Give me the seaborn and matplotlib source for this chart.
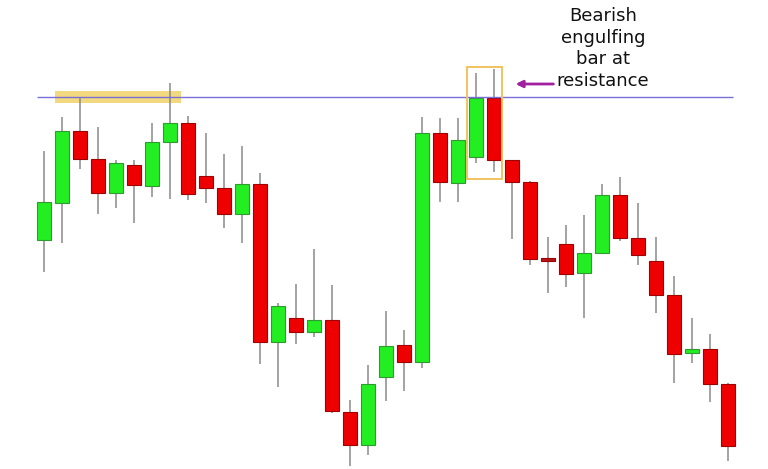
import numpy as np
import pandas as pd
import matplotlib
matplotlib.use("Agg")
import matplotlib.pyplot as plt
import seaborn as sns

# Candle data (price units)
opens  = [260, 297, 369, 341, 307, 335, 314, 358, 377, 324, 312, 286, 316, 158, 182, 168, 180, 88, 55, 123,
          155, 138, 367, 317, 343, 402, 340, 318, 242, 256, 227, 247, 305, 262, 239, 205, 147, 151, 116]
highs  = [349, 383, 403, 373, 340, 340, 377, 417, 384, 367, 346, 354, 327, 197, 216, 251, 215, 100, 135, 189,
          170, 383, 382, 382, 427, 431, 340, 319, 263, 275, 285, 316, 323, 297, 263, 224, 182, 166, 117]
lows   = [228, 257, 331, 286, 292, 277, 303, 301, 300, 297, 272, 257, 136, 113, 156, 163, 87, 34, 45, 99,
          109, 132, 298, 298, 337, 328, 261, 235, 207, 213, 182, 247, 259, 235, 187, 117, 137, 98, 39]
closes = [298, 369, 341, 307, 337, 315, 358, 377, 306, 312, 286, 316, 158, 194, 168, 180, 89, 55, 116, 154,
          138, 367, 318, 360, 402, 340, 318, 241, 239, 226, 247, 305, 262, 245, 205, 146, 151, 116, 54]

resistance_level = 403
zone_low, zone_high = 397, 409
annotation_text = "Bearish\nengulfing\nbar at\nresistance"

df = pd.DataFrame({"i": np.arange(len(opens)), "open": opens, "high": highs,
                   "low": lows, "close": closes})

sns.set_style("white")
fig = plt.figure(figsize=(7.68, 4.69), dpi=100)
ax = fig.add_axes([0, 0, 1, 1])

up = df["close"] >= df["open"]
green_face, green_edge = "#22ee22", "#2f9a2f"
red_face, red_edge = "#ee0000", "#a00000"

# wicks
ax.vlines(df["i"], df["low"], df["high"], color="#8a8a8a", linewidth=1.1, zorder=1)

# bodies
width = 0.76
bottoms = np.minimum(df["open"], df["close"])
heights = np.maximum(np.abs(df["close"] - df["open"]), 2)
faces = [green_face if u else red_face for u in up]
edges = [green_edge if u else red_edge for u in up]
# doji in dark red
faces[28] = "#b01818"
ax.bar(df["i"], heights, bottom=bottoms, width=width, color=faces,
       edgecolor=edges, linewidth=0.8, zorder=2)

# resistance line
ax.hlines(resistance_level, -0.39, 38.28, color="#7a6fd6", linewidth=1.0, zorder=3)
# yellow zone
ax.fill_between([0.61, 7.61], zone_low, zone_high, color="#efd060", alpha=0.8,
                linewidth=0, zorder=0.5)

# engulfing box
ax.add_patch(plt.Rectangle((23.5, 321), 1.94, 112, fill=False,
                           edgecolor="#f2c260", linewidth=1.4, zorder=4))

# arrow
ax.annotate("", xy=(26.2, 416), xytext=(28.3, 416),
            arrowprops=dict(arrowstyle="-|>", color="#a020a0", lw=2,
                            mutation_scale=10, shrinkA=0, shrinkB=0))
ax.text(31.06, 451.5, annotation_text, ha="center", va="center",
        fontsize=13, linespacing=1.28, color="#111111", family="DejaVu Sans")

ax.set_xlim(-44 / 18, (768 - 44) / 18)
ax.set_ylim(500 - 469, 500)
ax.axis("off")

fig.savefig("out.png", dpi=100)
